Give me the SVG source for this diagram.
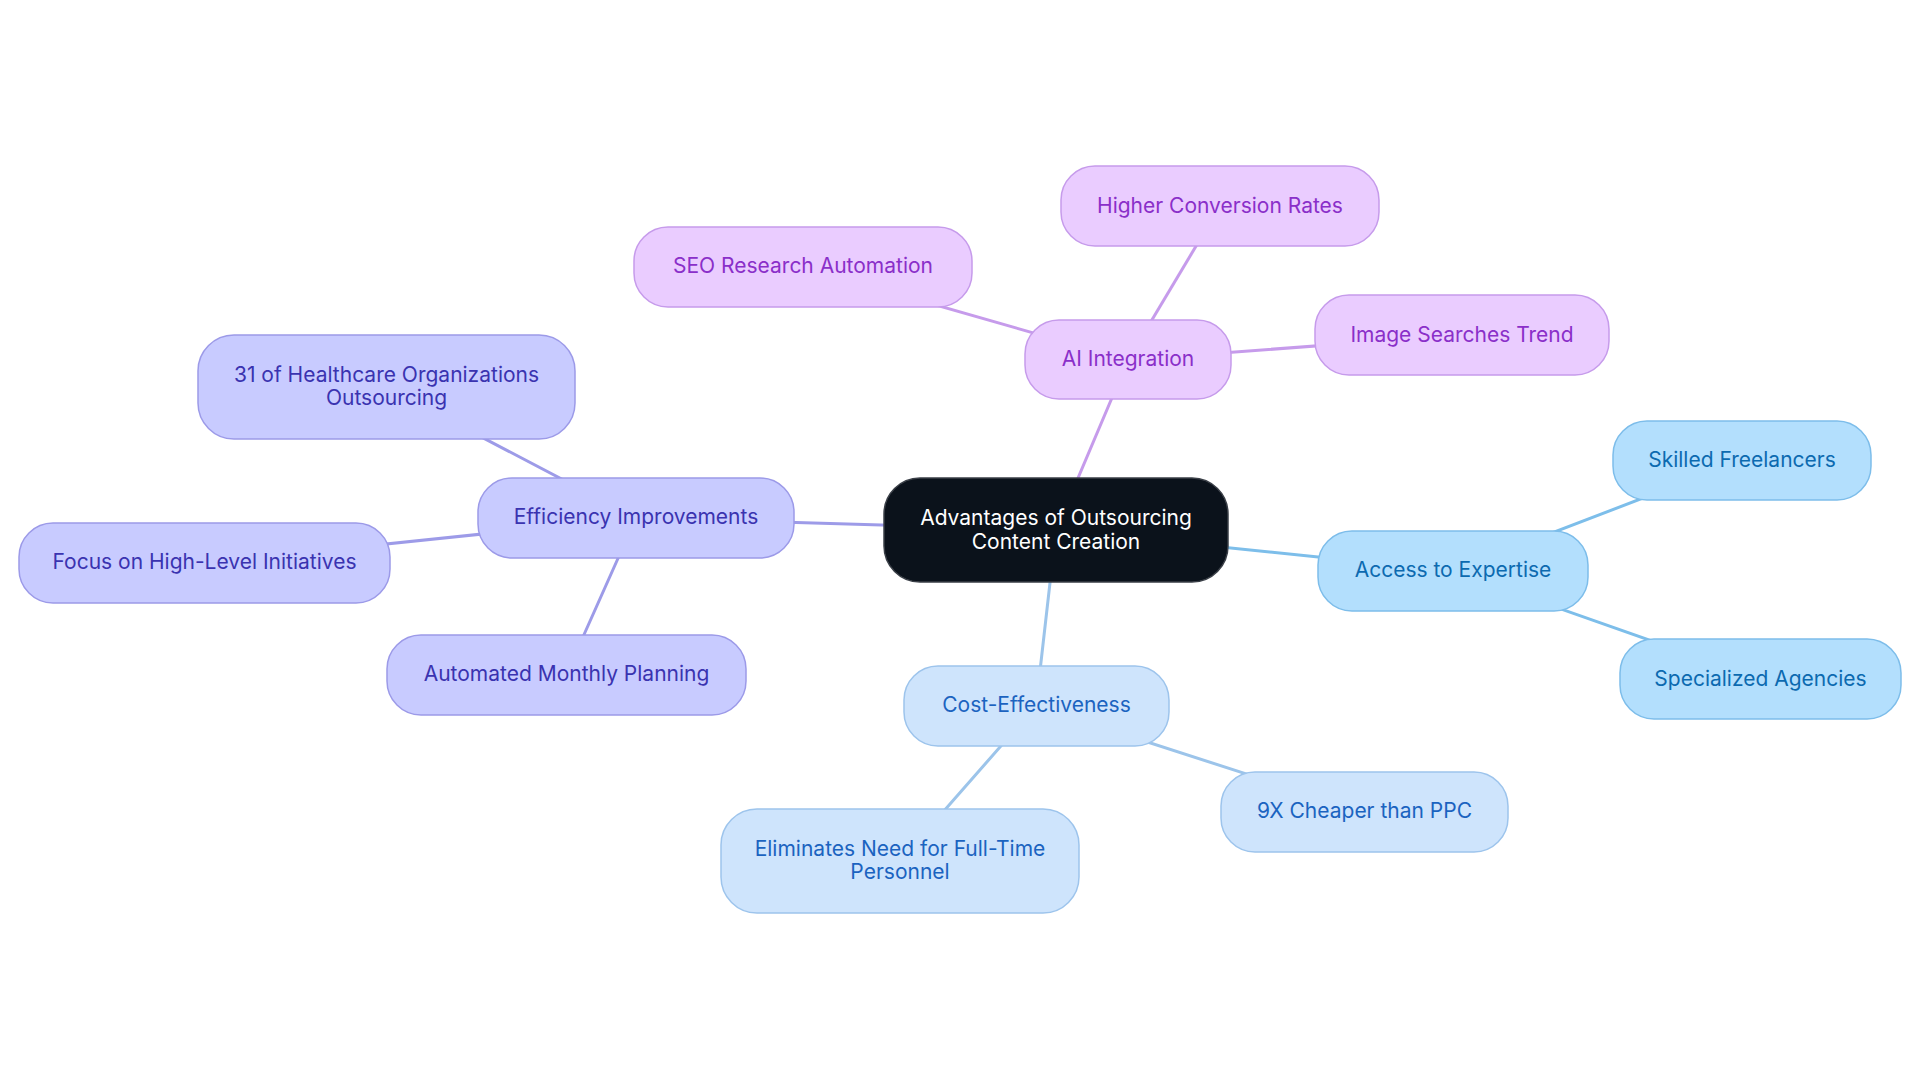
<svg xmlns="http://www.w3.org/2000/svg" width="1920" height="1083" viewBox="0 0 1920 1083">
<style>
text{font-family:Inter,"Open Sans","Liberation Sans",sans-serif;font-size:21px;text-anchor:middle}
.n rect{stroke-width:1.5}
.root rect{fill:#0b121b;stroke:#3a3f47}
.root text{fill:#ffffff}
.ai rect{fill:#eaccff;stroke:#c69beb}
.ai text{fill:#8a2fc9}
.ef rect{fill:#c8cbff;stroke:#9c9ae8}
.ef text{fill:#3a33b0}
.ac rect{fill:#b3dffd;stroke:#7dbdea}
.ac text{fill:#0c6ab0}
.co rect{fill:#cee4fc;stroke:#9dc4ec}
.co text{fill:#1b63c0}
.e line{stroke-width:3;stroke-linecap:round}
.e .ai{stroke:#c69beb}
.e .ef{stroke:#9d9be8}
.e .ac{stroke:#7dbeea}
.e .co{stroke:#9cc4ea}
</style>
<rect width="1920" height="1083" fill="#ffffff"/>
<g id="connectors" class="e">
<line class="ai" x1="1056" y1="530" x2="1128" y2="360"/>
<line class="ai" x1="1128" y1="360" x2="1220" y2="206"/>
<line class="ai" x1="1128" y1="360" x2="803" y2="267"/>
<line class="ai" x1="1128" y1="360" x2="1462" y2="335"/>
<line class="ef" x1="1056" y1="530" x2="636" y2="518"/>
<line class="ef" x1="636" y1="518" x2="386" y2="387"/>
<line class="ef" x1="636" y1="518" x2="204" y2="563"/>
<line class="ef" x1="636" y1="518" x2="566" y2="675"/>
<line class="ac" x1="1056" y1="530" x2="1453" y2="571"/>
<line class="ac" x1="1453" y1="571" x2="1742" y2="460"/>
<line class="ac" x1="1453" y1="571" x2="1760" y2="679"/>
<line class="co" x1="1056" y1="530" x2="1036" y2="706"/>
<line class="co" x1="1036" y1="706" x2="1364" y2="812"/>
<line class="co" x1="1036" y1="706" x2="900" y2="861"/>
</g>
<g id="root" class="n root">
<rect x="884" y="478" width="344" height="104" rx="36"/>
<text x="1056" y="525">Advantages of Outsourcing</text>
<text x="1056" y="549">Content Creation</text>
</g>
<g id="ai-integration" class="n ai">
<rect x="1025" y="320" width="206" height="79" rx="34"/>
<text x="1128" y="366">AI Integration</text>
</g>
<g id="higher-conversion" class="n ai">
<rect x="1061" y="166" width="318" height="80" rx="34"/>
<text x="1220" y="213">Higher Conversion Rates</text>
</g>
<g id="seo-research" class="n ai">
<rect x="634" y="227" width="338" height="80" rx="34"/>
<text x="803" y="273">SEO Research Automation</text>
</g>
<g id="image-searches" class="n ai">
<rect x="1315" y="295" width="294" height="80" rx="34"/>
<text x="1462" y="342">Image Searches Trend</text>
</g>
<g id="efficiency" class="n ef">
<rect x="478" y="478" width="316" height="80" rx="34"/>
<text x="636" y="524">Efficiency Improvements</text>
</g>
<g id="healthcare" class="n ef">
<rect x="198" y="335" width="377" height="104" rx="36"/>
<text x="386.5" y="382">31 of Healthcare Organizations</text>
<text x="386.5" y="405">Outsourcing</text>
</g>
<g id="focus" class="n ef">
<rect x="19" y="523" width="371" height="80" rx="34"/>
<text x="204.5" y="569">Focus on High-Level Initiatives</text>
</g>
<g id="automated" class="n ef">
<rect x="387" y="635" width="359" height="80" rx="34"/>
<text x="566.5" y="681">Automated Monthly Planning</text>
</g>
<g id="access" class="n ac">
<rect x="1318" y="531" width="270" height="80" rx="34"/>
<text x="1453" y="577">Access to Expertise</text>
</g>
<g id="skilled" class="n ac">
<rect x="1613" y="421" width="258" height="79" rx="34"/>
<text x="1742" y="467">Skilled Freelancers</text>
</g>
<g id="specialized" class="n ac">
<rect x="1620" y="639" width="281" height="80" rx="34"/>
<text x="1760.5" y="686">Specialized Agencies</text>
</g>
<g id="cost" class="n co">
<rect x="904" y="666" width="265" height="80" rx="34"/>
<text x="1036.5" y="712">Cost-Effectiveness</text>
</g>
<g id="cheaper" class="n co">
<rect x="1221" y="772" width="287" height="80" rx="34"/>
<text x="1364.5" y="818">9X Cheaper than PPC</text>
</g>
<g id="eliminates" class="n co">
<rect x="721" y="809" width="358" height="104" rx="36"/>
<text x="900" y="856">Eliminates Need for Full-Time</text>
<text x="900" y="879">Personnel</text>
</g>
</svg>
